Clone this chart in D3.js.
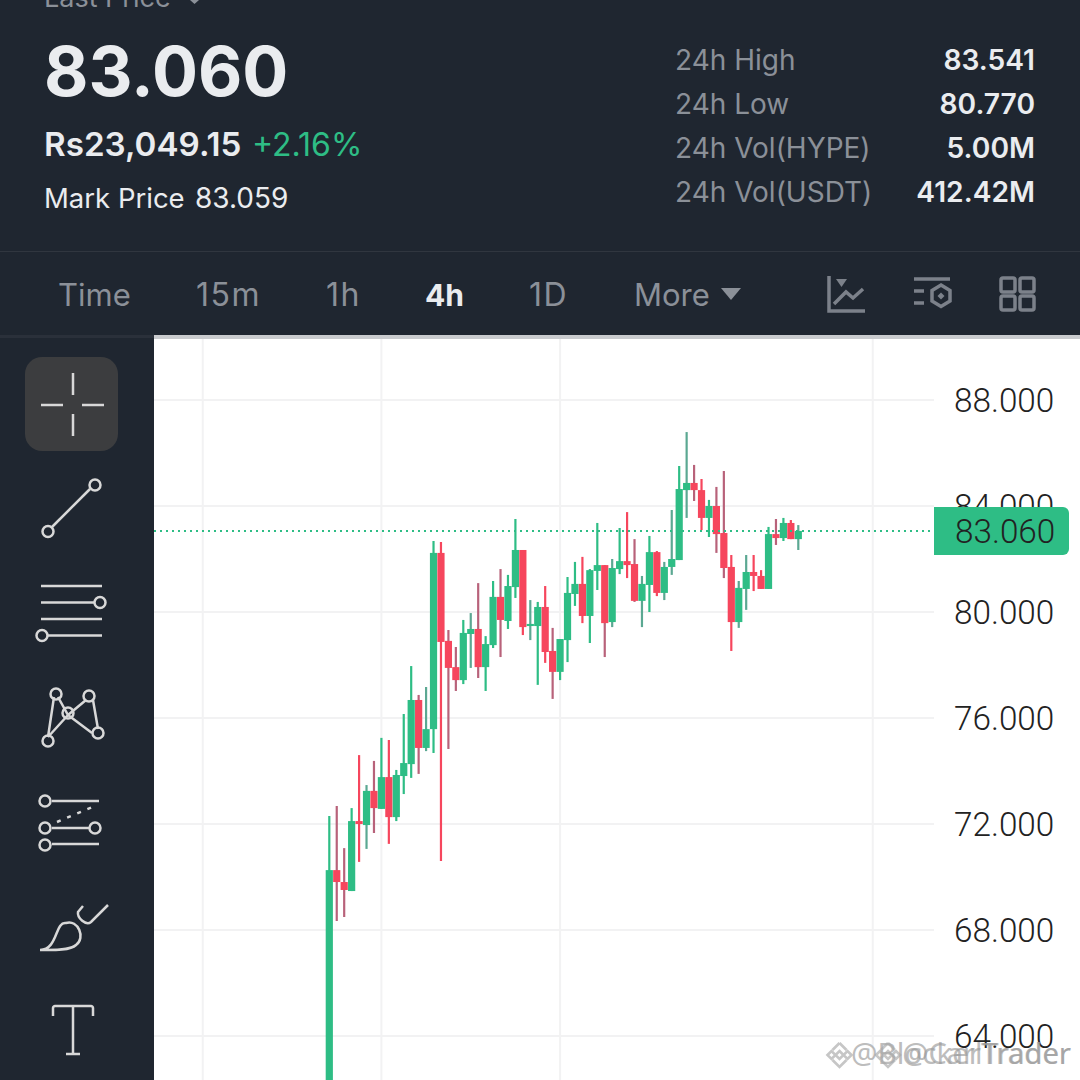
<!doctype html>
<html>

<head>
    <meta charset="UTF-8">
    <title>HYPE 4h</title>
    <script src="https://d3js.org/d3.v7.min.js"></script>
    <style>
        html, body { margin: 0; padding: 0; background: #fff; }
        svg { display: block; }
        text { font-family: Inter, sans-serif; }
    </style>
</head>

<body>
    <script>
        // candles, oldest first
        var opens = [60.00, 70.26, 69.81, 69.47, 72.11, 71.96, 73.25, 72.57, 73.77, 72.26, 73.81, 74.26, 76.68, 74.87, 75.58, 82.23,
            78.91, 77.92, 77.43, 79.17, 79.36, 77.92, 78.75, 80.57, 79.66, 80.94, 82.34, 79.47, 79.47, 80.19, 78.53, 77.74,
            78.94, 80.68, 81.06, 79.85, 81.55, 81.77, 79.62, 81.62, 81.92, 81.81, 80.42, 81.02, 82.26, 80.72, 81.70, 81.96,
            84.60, 84.87, 84.60, 83.55, 84.00, 82.98, 81.70, 79.62, 80.87, 81.51, 81.36, 80.87, 82.94, 82.79, 83.36, 82.75];
        var highs = [72.30, 72.68, 71.09, 72.60, 74.60, 73.47, 74.38, 75.25, 75.17, 74.04, 76.15, 77.96, 76.87, 77.17, 82.68, 82.64,
            79.32, 78.68, 79.70, 79.96, 81.09, 79.09, 81.17, 81.62, 81.40, 83.51, 82.34, 80.45, 80.38, 80.98, 79.40, 78.98,
            81.32, 81.89, 82.08, 81.62, 83.36, 81.77, 82.00, 83.17, 83.77, 82.75, 81.36, 82.87, 82.30, 81.89, 83.85, 85.51,
            86.79, 85.55, 85.02, 84.23, 84.72, 85.32, 82.15, 81.17, 82.15, 82.15, 81.58, 83.21, 83.51, 83.55, 83.47, 83.28];
        var lows = [59.00, 68.34, 68.49, 69.47, 70.57, 71.06, 71.66, 72.57, 71.25, 72.11, 73.13, 73.74, 73.89, 74.75, 74.68, 70.60,
            74.83, 77.02, 77.28, 77.89, 77.51, 77.02, 78.64, 78.30, 79.36, 80.53, 79.13, 78.94, 77.25, 78.08, 76.72, 77.43,
            78.11, 80.23, 79.58, 78.83, 80.83, 78.30, 79.43, 81.43, 81.28, 80.38, 79.43, 80.00, 80.60, 80.45, 81.40, 81.96,
            83.55, 84.19, 83.09, 82.83, 82.23, 81.28, 78.53, 79.40, 80.08, 80.79, 80.87, 80.87, 82.53, 82.68, 82.75, 82.34];
        var closes = [70.26, 69.81, 69.51, 72.11, 72.00, 73.25, 72.60, 73.77, 72.26, 73.85, 74.30, 76.68, 74.87, 75.58, 82.23, 78.87,
            77.89, 77.43, 79.21, 79.36, 77.92, 78.79, 80.57, 79.70, 80.98, 82.34, 79.43, 79.55, 80.19, 78.49, 77.74, 78.98,
            80.72, 81.06, 79.85, 81.58, 81.77, 79.58, 81.66, 81.92, 81.77, 80.42, 81.06, 82.26, 80.72, 81.70, 82.00, 84.64,
            84.87, 84.60, 83.55, 84.00, 82.94, 81.66, 79.62, 80.91, 81.51, 81.36, 80.87, 82.94, 82.79, 83.36, 82.75, 83.06];
        var priceTicks = [88, 84, 80, 76, 72, 68, 64];
        var timeGrid = [-17, 7, 31, 73];   // candle index of the vertical grid lines
        var lastPrice = 83.06;

        var statLabels = ["24h High", "24h Low", "24h Vol(HYPE)", "24h Vol(USDT)"];
        var statValues = ["83.541", "80.770", "5.00M", "412.42M"];
        var tabLabels = ["Time", "15m", "1h", "4h", "1D", "More"];

        var GREEN = "#2ebd85", RED = "#f6465d", DARK = "#1f2630", LIGHT = "#eaecef", GREY = "#8b9098", ICON = "#d8d8d8";

        var svg = d3.select("body").append("svg").attr("width", 1080).attr("height", 1080);

        var x = d3.scaleLinear().domain([0, opens.length - 1]).range([329.3, 798.3]);
        var y = d3.scaleLinear().domain([64, 88]).range([1036, 400]);

        drawHeader();
        drawTabs();
        drawPlot();
        drawToolbar();

        function label(t, px, py, size, color, weight, anchor) {
            return svg.append("text").text(t)
                .attr("x", px).attr("y", py)
                .attr("font-size", size)
                .attr("fill", color)
                .attr("font-weight", weight || 400)
                .attr("text-anchor", anchor || "start");
        }

        function drawHeader() {
            svg.append("rect").attr("width", 1080).attr("height", 338).attr("fill", DARK);
            label("Last Price", 44, 7, 27, GREY);
            svg.append("path").attr("d", "M190 0h9l-4.500 4z").attr("fill", GREY);
            label("83.060", 44, 96, 68.3, LIGHT, 700);
            label("Rs23,049.15", 44, 155.5, 33.2, LIGHT, 600);
            label("+2.16%", 252, 155.5, 32, GREEN);
            label("Mark Price", 44, 208, 27.5, LIGHT);
            label("83.059", 195, 208, 28, LIGHT);

            var rows = [69.5, 113.5, 157.5, 201.5];
            statLabels.forEach(function(t, i) {
                label(t, 675, rows[i], 28, GREY);
                label(statValues[i], 1035, rows[i], 28.2, LIGHT, 600, "end");
            });
            svg.append("line").attr("x1", 0).attr("x2", 1080).attr("y1", 251.5).attr("y2", 251.5)
                .attr("stroke", "#30363f").attr("stroke-width", 1);
        }

        function drawTabs() {
            var xs = [58, 196, 326, 425, 529, 634];
            tabLabels.forEach(function(t, i) {
                var on = t == "4h";
                var digit = /^\d/.test(t) && !on;
                var tab = label(t, xs[i], 306, on ? 30 : (digit ? 32 : 31), on ? LIGHT : GREY, on ? 700 : 400);
                if (digit) tab.attr("letter-spacing", 1.5);
            });
            svg.append("path").attr("d", "M721 288h20l-10 12z").attr("fill", GREY);

            var tab = svg.append("g").attr("fill", "none").attr("stroke", "#7c818a").attr("stroke-width", 3.5);
            tab.append("path").attr("d", "M829 276V311H865");
            tab.append("path").attr("d", "M834 304L846 292L853 298L863 289");
            tab.append("path").attr("d", "M836 279h11l-5.500 8z").attr("fill", "#7c818a").attr("stroke", "none");
            tab.append("path").attr("d", "M914 279H950M914 291H924M914 303H924");
            tab.append("path").attr("d", "M941 285L950 290.500V301L941 306.500L932 301V290.500Z");
            tab.append("path").attr("d", "M941 292.500l3.500 3.500l-3.500 3.500l-3.500-3.500z").attr("fill", "#7c818a").attr("stroke", "none");
            [[1001, 278], [1020, 278], [1001, 296], [1020, 296]].forEach(function(p) {
                tab.append("rect").attr("x", p[0]).attr("y", p[1]).attr("width", 14).attr("height", 14).attr("rx", 2);
            });
        }

        function drawPlot() {
            svg.append("rect").attr("x", 154).attr("y", 335).attr("width", 926).attr("height", 745).attr("fill", "#fff");
            svg.append("rect").attr("x", 154).attr("y", 335).attr("width", 926).attr("height", 4).attr("fill", "#c9cbce");

            svg.append("defs").append("clipPath").attr("id", "plot")
                .append("rect").attr("x", 154).attr("y", 339).attr("width", 780).attr("height", 741);

            var grid = svg.append("g").attr("clip-path", "url(#plot)")
                .attr("stroke", "#f2f2f3").attr("stroke-width", 2);
            grid.selectAll("line.h").data(priceTicks).enter().append("line")
                .attr("x1", 154).attr("x2", 934)
                .attr("y1", function(d) { return y(d); })
                .attr("y2", function(d) { return y(d); });
            grid.selectAll("line.v").data(timeGrid).enter().append("line")
                .attr("x1", function(d) { return x(d); })
                .attr("x2", function(d) { return x(d); })
                .attr("y1", 339).attr("y2", 1080);

            var axis = d3.axisRight(y).tickValues(priceTicks).tickSize(0).tickPadding(0)
                .tickFormat(d3.format(".3f"));
            var ax = svg.append("g").attr("transform", "translate(954,1)").call(axis);
            ax.select(".domain").remove();
            ax.selectAll("text").attr("font-size", 33.3).attr("fill", "#222")
                .style("font-family", "Roboto, sans-serif").style("font-weight", 300);

            // two reposts stamped on top of each other in the source
            watermark(839.5, "@BlockerTrader", 29.5);
            watermark(888, "@CarlTrader", 29);

            // wicks that came out washed by the screenshot's compression
            var faded = [1, 2, 5, 6, 12, 13, 16, 17, 19, 20, 23, 27, 30, 37, 38, 41, 42, 45, 46, 48, 49, 52, 53, 55, 56, 60, 63];
            var candles = svg.append("g").attr("clip-path", "url(#plot)");
            var idx = d3.range(opens.length);
            function up(i) { return closes[i] >= opens[i]; }

            candles.selectAll("line").data(idx).enter().append("line")
                .attr("x1", function(i) { return x(i); })
                .attr("x2", function(i) { return x(i); })
                .attr("y1", function(i) { return y(highs[i]); })
                .attr("y2", function(i) { return y(lows[i]); })
                .attr("stroke-width", 2.2)
                .attr("stroke", function(i) {
                    if (faded.indexOf(i) >= 0) return up(i) ? "#5ba892" : "#b8627a";
                    return up(i) ? GREEN : RED;
                });
            candles.selectAll("rect").data(idx).enter().append("rect")
                .attr("x", function(i) { return x(i) - 3.6; })
                .attr("width", 7.2)
                .attr("y", function(i) { return y(Math.max(opens[i], closes[i])); })
                .attr("height", function(i) { return Math.max(1.5, Math.abs(y(opens[i]) - y(closes[i]))); })
                .attr("fill", function(i) { return up(i) ? GREEN : RED; });

            svg.append("line").attr("x1", 154).attr("x2", 934)
                .attr("y1", y(lastPrice)).attr("y2", y(lastPrice))
                .attr("stroke", GREEN).attr("stroke-width", 2).attr("stroke-dasharray", "2 4");

            svg.append("path").attr("d", "M934 507H1063a6 6 0 0 1 6 6V549a6 6 0 0 1 -6 6H934Z").attr("fill", GREEN);
            var tag = label(d3.format(".3f")(lastPrice), 955, y(lastPrice) + 12.5, 33.3, "#222", 300);
            tag.style("font-family", "Roboto, sans-serif");
        }

        function watermark(logoX, t, size) {
            var g = svg.append("g").attr("opacity", 0.65);
            g.append("g").attr("transform", "translate(" + logoX + ",1055)")
                .attr("fill", "none").attr("stroke", "#a8a8a8").attr("stroke-width", 2.6)
                .selectAll("path").data([
                    "M0 -12L7 -5M0 -12L-7 -5",
                    "M-12 0L-8 -4L-4 0L-8 4Z",
                    "M12 0L8 -4L4 0L8 4Z",
                    "M0 -4L4 0L0 4L-4 0Z",
                    "M-7 5L0 12L7 5"
                ]).enter().append("path").attr("d", function(d) { return d; });
            g.append("text").text(t).attr("x", 1071).attr("y", 1064)
                .attr("text-anchor", "end")
                .attr("font-size", size).attr("fill", "#9a9a9a")
                .style("font-family", "'Noto Sans', sans-serif");
        }

        function drawToolbar() {
            svg.append("rect").attr("x", 0).attr("y", 335).attr("width", 154).attr("height", 745).attr("fill", DARK);
            svg.append("rect").attr("x", 0).attr("y", 335).attr("width", 154).attr("height", 3).attr("fill", "#2a303a");
            svg.append("rect").attr("x", 25).attr("y", 357).attr("width", 93).attr("height", 94).attr("rx", 17).attr("fill", "#3c3d3f");

            var g = svg.append("g").attr("fill", "none").attr("stroke", ICON).attr("stroke-width", 2.5);
            function dot(cx, cy) {
                g.append("circle").attr("cx", cx).attr("cy", cy).attr("r", 5.5);
            }
            // crosshair
            g.append("path").attr("d", "M73 373V395M73 414V436M41 405H63M82 405H104");
            // trend line
            g.append("path").attr("d", "M52 527L90 489");
            dot(48, 531.5); dot(95, 485);
            // parallel lines
            g.append("path").attr("d", "M41 586H102M41 602.500H94M41 619H102M48 635.500H102");
            dot(100, 602.500); dot(42, 635.500);
            // pattern
            g.append("path").attr("d", "M54 697L48 737M58 697L68 715L86 700M93 700L98 729M68 715L48 737M68 715L92 733");
            dot(56, 694); dot(89, 696); dot(68, 713); dot(48, 741); dot(98, 733);
            // fib
            g.append("path").attr("d", "M52 801H99M52 828H90M52 844H99");
            g.append("path").attr("d", "M57 822L97 805").attr("stroke-dasharray", "4 7");
            dot(45, 801); dot(45, 828); dot(95, 828); dot(45, 845);
            // brush
            g.append("path").attr("d", "M40 950C58 950 55 921 66 923C78 919 86 938 76 945C70 951 50 950 40 950Z");
            g.append("path").attr("d", "M83 906L78 912C77 918 86 926 91 922L108 905");
            // text
            g.append("path").attr("d", "M53 1016V1008C53 1007 54 1006 55 1006H91C92 1006 93 1007 93 1008V1016M73 1006V1054M66 1054H80");
        }
    </script>
</body>

</html>
